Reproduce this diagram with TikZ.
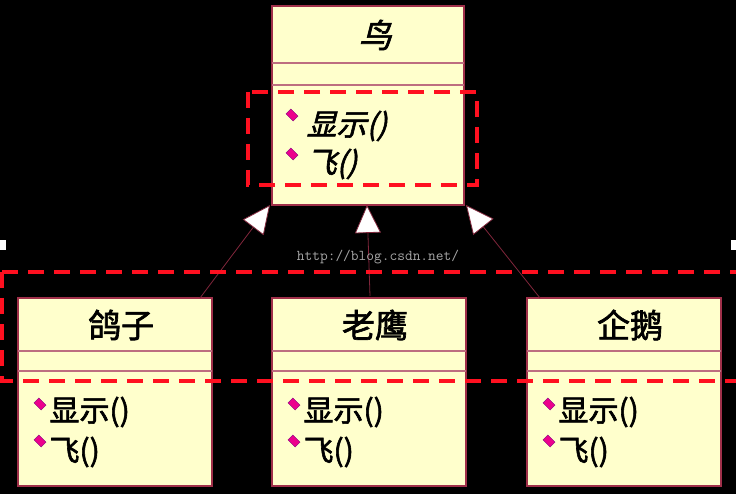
\documentclass[tikz,border=0pt]{standalone}
\usepackage{fontspec}
\newfontfamily\cjk[FakeBold=2]{Noto Sans CJK SC}
\newfontfamily\cjkit[FakeSlant=0.25,FakeBold=2]{Noto Sans CJK SC}
\usetikzlibrary{arrows.meta}
\definecolor{boxfill}{HTML}{FFFFCC}
\definecolor{boxline}{HTML}{A0304A}
\definecolor{dashred}{HTML}{FF1020}
\tikzset{
  cls/.style={draw=boxline,fill=boxfill,line width=1.2pt},
  sep/.style={draw=boxline!70,line width=1.2pt},
  hl/.style={draw=dashred,line width=4pt,dash pattern=on 16pt off 10pt},
  gen/.style={draw=boxline!80!black,line width=0.8pt,-{Triangle[open,fill=white,length=28pt,width=26pt]}},
  ttl/.style={font=\cjk\fontsize{33}{33}\selectfont,text=black},
  ttli/.style={font=\cjkit\fontsize{33}{33}\selectfont,text=black},
  mth/.style={font=\cjk\fontsize{30}{32}\selectfont,text=black,anchor=west},
  mthi/.style={font=\cjkit\fontsize{30}{32}\selectfont,text=black,anchor=west},
  bul/.style={fill=magenta,draw=violet,rotate=45,minimum width=7pt,minimum height=10pt,inner sep=0pt}
}
\begin{document}
\begin{tikzpicture}[x=1pt,y=-1pt]
\fill[black] (0,0) rectangle (736,494);
\useasboundingbox (0,0) rectangle (736,494);
\fill[white] (0,240) rectangle (6,250);
\fill[white] (731,240) rectangle (736,250);
% parent
\draw[cls] (272,6) rectangle (464,205);
\draw[sep] (272,63) -- (464,63);
\draw[sep] (272,85) -- (464,85);
\node[ttli] (bird) at (375,35) {鸟};
\node[bul] (pb1) at (292,115) {};
\node[mthi] (pm1) at (303,126) {显示()};
\node[bul] (pb2) at (292,154) {};
\node[mthi] (pm2) at (303,164) {飞()};
\coordinate (pa) at (270,205);
\coordinate (pb) at (367,205);
\coordinate (pc) at (466,205);
% children
\foreach \nm/\x/\t in {c1/18/鸽子,c2/272/老鹰,c3/527/企鹅}{
  \draw[cls] (\x,298) rectangle (\x+194,486);
  \draw[sep] (\x,351) -- (\x+194,351);
  \draw[sep] (\x,371) -- (\x+194,371);
  \node[ttl] (\nm t) at (\x+103,325) {\t};
  \node[bul] (\nm b1) at (\x+22,404) {};
  \node[mth] (\nm m1) at (\x+28,412) {显示()};
  \node[bul] (\nm b2) at (\x+22,441) {};
  \node[mth] (\nm m2) at (\x+28,452) {飞()};
}
\coordinate (ca) at (200,298);
\coordinate (cb) at (370,296);
\coordinate (cc) at (540,298);
\draw[gen] (ca) -- (pa);
\draw[gen] (cb) -- (pb);
\draw[gen] (cc) -- (pc);
\node[text=gray!70,font=\ttfamily\fontsize{15}{15}\selectfont] (wm) at (378,257) {http://blog.csdn.net/};
% highlight boxes
\draw[hl] (248,92) rectangle (477,185);
\draw[hl] (2,272) -- (740,272);
\draw[hl] (2,272) -- (2,381) -- (740,381);
\end{tikzpicture}
\end{document}
